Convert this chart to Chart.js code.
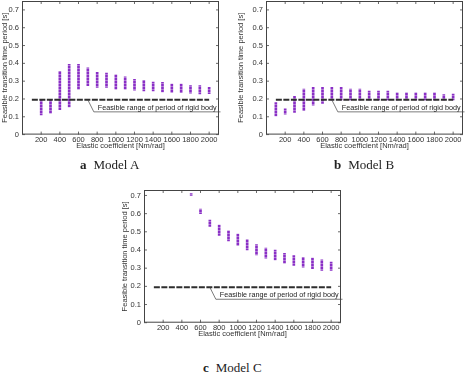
<!DOCTYPE html>
<html>
<head>
<meta charset="utf-8">
<script src="https://cdn.jsdelivr.net/npm/chart.js@4.4.1/dist/chart.umd.min.js"></script>
<style>
  html,body{margin:0;padding:0;background:#fff;}
  body{width:474px;height:375px;position:relative;overflow:hidden;}
  .cv{position:absolute;}
  .cap{position:absolute;font-family:"Liberation Serif","Times New Roman",serif;font-size:13px;color:#222;white-space:nowrap;line-height:15px;}
  .cap b{margin-right:7px;}
</style>
</head>
<body>
<div class="cv" style="left:0px;top:0px;width:237px;height:160px;"><canvas id="cA"></canvas></div>
<div class="cv" style="left:236px;top:0px;width:238px;height:160px;"><canvas id="cB"></canvas></div>
<div class="cv" style="left:120px;top:180px;width:240px;height:170px;"><canvas id="cC"></canvas></div>
<div class="cap" style="left:80px;top:157px;"><b>a</b>Model A</div>
<div class="cap" style="left:334px;top:157px;"><b>b</b>Model B</div>
<div class="cap" style="left:203px;top:360px;"><b>c</b>Model C</div>
<script>
// ---- data ----
const elasticCoeff = [100,200,300,400,500,600,700,800,900,1000,1100,1200,1300,1400,1500,1600,1700,1800,1900,2000];
const xTickValues = [200,400,600,800,1000,1200,1400,1600,1800,2000];
const yTickValues = [0,0.1,0.2,0.3,0.4,0.5,0.6,0.7];
const modelA_min = [null,0.11,0.12,0.14,0.155,0.255,0.275,0.265,0.265,0.255,0.255,0.25,0.245,0.245,0.24,0.237,0.235,0.233,0.228,0.23];
const modelA_max = [null,0.195,0.195,0.355,0.395,0.395,0.375,0.35,0.345,0.335,0.325,0.31,0.305,0.295,0.293,0.284,0.283,0.275,0.275,0.265];
const modelB_min = [0.105,0.115,0.125,0.135,0.165,0.175,0.195,0.195,0.195,0.195,0.195,0.195,0.195,0.195,0.195,0.195,0.195,0.195,0.195,0.195];
const modelB_max = [0.18,0.145,0.215,0.255,0.265,0.265,0.265,0.265,0.255,0.255,0.245,0.245,0.245,0.235,0.235,0.235,0.235,0.235,0.225,0.228];
const modelC_min = [null,null,null,null,0.70,0.60,0.53,0.48,0.45,0.425,0.40,0.373,0.355,0.346,0.327,0.315,0.305,0.297,0.287,0.287];
const modelC_max = [null,null,null,null,0.71,0.625,0.565,0.537,0.505,0.488,0.457,0.43,0.41,0.40,0.382,0.369,0.36,0.355,0.346,0.333];
const rigidBodyPeriod = 0.195;
const rigidAnchorX = 700;
const annotationText = "Feasible range of period of rigid body";
const xTitle = "Elastic coefficient [Nm/rad]";
const yTitle = "Feasible transition time period [s]";

// ---- style ----
const FONT = "'Liberation Sans', Arial, sans-serif";
const TXT = '#333';
function makePattern(){
  const c = document.createElement('canvas'); c.width = 2; c.height = 3;
  const g = c.getContext('2d');
  g.fillStyle = '#b07ad6'; g.fillRect(0,0,2,3);
  g.fillStyle = '#8a2ec6'; g.fillRect(0,0,2,2);
  return g.createPattern(c,'repeat');
}

const framePlugin = {
  id: 'frame',
  afterDatasetsDraw(chart){
    const {ctx, chartArea:a, scales:{x,y}} = chart;
    ctx.save();
    // annotation
    const px = x.getPixelForValue(rigidAnchorX), py = y.getPixelForValue(rigidBodyPeriod);
    ctx.font = "7.2px " + FONT;
    const tw = ctx.measureText(annotationText).width;
    ctx.strokeStyle = '#444'; ctx.lineWidth = 0.7;
    ctx.beginPath();
    ctx.moveTo(px, py); ctx.lineTo(px+6, py+12); ctx.lineTo(px+12+tw+2, py+12);
    ctx.stroke();
    ctx.fillStyle = '#222'; ctx.textBaseline = 'alphabetic'; ctx.textAlign = 'left';
    ctx.fillText(annotationText, px+10, py+10.2);
    // box
    ctx.strokeStyle = '#444'; ctx.lineWidth = 1;
    ctx.strokeRect(a.left+0.5, a.top+0.5, a.right-a.left-1, a.bottom-a.top-1);
    // inward ticks
    ctx.lineWidth = 0.8;
    ctx.beginPath();
    xTickValues.forEach(v=>{
      const p = x.getPixelForValue(v);
      ctx.moveTo(p, a.bottom); ctx.lineTo(p, a.bottom-3);
      ctx.moveTo(p, a.top); ctx.lineTo(p, a.top+3);
    });
    yTickValues.forEach(v=>{
      const p = y.getPixelForValue(v);
      ctx.moveTo(a.left, p); ctx.lineTo(a.left+3, p);
      ctx.moveTo(a.right, p); ctx.lineTo(a.right-3, p);
    });
    ctx.stroke();
    ctx.restore();
  }
};

function buildChart(id, mins, maxs, geo){
  const el = document.getElementById(id);
  el.parentNode.style.width = geo.w + 'px';
  el.parentNode.style.height = geo.h + 'px';
  const bars = elasticCoeff.map((c,i)=> mins[i]==null ? null : {x:c, y:[mins[i], maxs[i]]}).filter(d=>d);
  return new Chart(el, {
    type: 'bar',
    data: {
      datasets: [
        {type:'line', data:[{x:100,y:rigidBodyPeriod},{x:2000,y:rigidBodyPeriod}], borderColor:'#2e2e2e', borderWidth:2, borderDash:[6,1.5], pointRadius:0, order:1},
        {type:'bar', data: bars, backgroundColor: makePattern(), barThickness: 2, borderWidth:0, order:2}
      ]
    },
    options: {
      responsive: true, maintainAspectRatio: false, animation: false,
      devicePixelRatio: 1,
      layout: {padding: {left: 0, right: geo.pr, top: geo.pt, bottom: geo.pb}},
      plugins: {legend:{display:false}, tooltip:{enabled:false}},
      scales: {
        x: {
          type:'linear', min:100, max:2000,
          grid:{display:false, drawTicks:false}, border:{display:false},
          afterBuildTicks(s){ s.ticks = xTickValues.map(v=>({value:v})); },
          ticks:{font:{family:FONT,size:7.5}, color:TXT, padding:1, maxRotation:0, autoSkip:false, callback:(v)=>String(v)},
          title:{display:true, text:xTitle, font:{family:FONT,size:7.5}, color:TXT, padding:0},
          afterFit(s){ s.height = 16; s.paddingLeft = 0; s.paddingRight = 0; }
        },
        y: {
          type:'linear', min:0, max:geo.ymax,
          grid:{display:false, drawTicks:false}, border:{display:false},
          afterBuildTicks(s){ s.ticks = yTickValues.map(v=>({value:v})); },
          ticks:{font:{family:FONT,size:7.5}, color:TXT, padding:3, callback:(v)=> v===0 ? '0' : v.toFixed(1)},
          title:{display:true, text:yTitle, font:{family:FONT,size:7.5}, color:TXT, padding:0},
          afterFit(s){ s.width = geo.yw; s.paddingTop = 0; s.paddingBottom = 0; }
        }
      }
    },
    plugins:[framePlugin]
  });
}

buildChart('cA', modelA_min, modelA_max, {w:237, h:160, pr:18, pt:1, pb:9.4, yw:22, ymax:0.75});
buildChart('cB', modelB_min, modelB_max, {w:238, h:160, pr:11, pt:1, pb:9.4, yw:30, ymax:0.75});
buildChart('cC', modelC_min, modelC_max, {w:240, h:170, pr:19, pt:10, pb:170-142.7-16, yw:24, ymax:0.73});
</script>
</body>
</html>
